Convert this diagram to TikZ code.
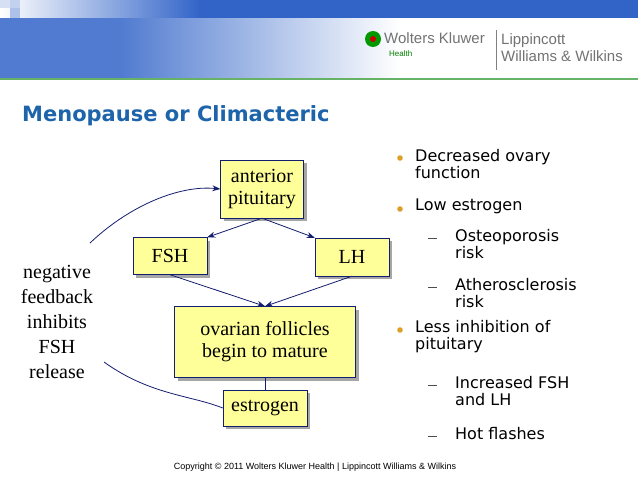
\documentclass[tikz,border=0pt]{standalone}
\usepackage{fontspec}
\setmainfont{Liberation Serif}
\newfontfamily\sansf{DejaVu Sans}
\newfontfamily\hdf{Liberation Sans}
\usetikzlibrary{shadows,arrows.meta}
\definecolor{boxy}{RGB}{255,255,153}
\definecolor{arr}{RGB}{20,30,110}
\definecolor{ttl}{RGB}{30,100,170}
\definecolor{bul}{RGB}{220,160,40}
\definecolor{hblue}{RGB}{50,100,200}
\tikzset{
  hbox/.style={draw=arr,fill=boxy,font=\fontsize{20}{22}\selectfont,align=center,inner sep=0pt,
    drop shadow={shadow xshift=3pt,shadow yshift=-3pt,fill=gray!70,opacity=1}},
  conn/.style={draw=arr,line width=0.8pt,-{Stealth[length=8pt,width=6pt]}},
  btxt/.style={font=\sansf\fontsize{16}{17}\selectfont,anchor=north west,align=left,text=black,inner sep=0pt}
}
\begin{document}
\begin{tikzpicture}[x=1pt,y=-1pt]
\useasboundingbox (0,0) rectangle (638,479);
\fill[white] (0,0) rectangle (638,479);
% header
\fill[hblue] (0,0) rectangle (638,18);
\shade[left color=white,right color=hblue] (0,0) rectangle (200,18);
\fill[hblue!20] (0,0) rectangle (10,8);\fill[hblue!40] (10,8) rectangle (20,18);
\fill[hblue!30] (10,0) rectangle (20,8);
\fill[hblue!85] (0,18) rectangle (120,78);
\shade[left color=hblue!85,right color=white] (120,18) rectangle (400,78);
\draw[green!50!black!60,line width=1.5pt] (0,79) -- (638,79);
\fill[green!60!black] (373,39) circle (8);\fill[red!80!black] (373,39) circle (3);
\node[font=\hdf\fontsize{15}{15}\selectfont,text=gray!90!black,anchor=west,inner sep=0] (wk) at (384,38) {Wolters Kluwer};
\node[font=\hdf\fontsize{8}{8}\selectfont,text=green!50!black,anchor=west,inner sep=0] (he) at (389,54) {Health};
\draw[gray] (496,30) -- (496,70);
\node[font=\hdf\fontsize{15}{17}\selectfont,text=gray!90!black,anchor=west,align=left,inner sep=0] (lww) at (501,48) {Lippincott\\Williams \& Wilkins};
\node[font=\sansf\bfseries\fontsize{21}{21}\selectfont,text=ttl,anchor=west,inner sep=0] (title) at (22,116) {Menopause or Climacteric};
% boxes
\node[hbox,minimum width=83pt,minimum height=58pt] (ap) at (262,189) {anterior\\pituitary};
\node[hbox,minimum width=74pt,minimum height=37pt] (fsh) at (170,256) {FSH};
\node[hbox,minimum width=74pt,minimum height=38pt] (lh) at (352,257) {LH};
\node[hbox,minimum width=181pt,minimum height=71pt] (ov) at (265,342) {ovarian follicles\\begin to mature};
\node[hbox,minimum width=84pt,minimum height=36pt] (es) at (265,408) {estrogen};
\draw[conn] (ap.south) -- (fsh.north east);
\draw[conn] (ap.south) -- (lh.north west);
\draw[conn] (fsh.south) -- (ov.north);
\draw[conn] (lh.south) -- (ov.north);
\draw[draw=arr,line width=0.8pt] (ov.south) -- (es.north);
\node[font=\fontsize{20}{25}\selectfont,align=center,inner sep=0] (fb) at (57,322) {negative\\feedback\\inhibits\\FSH\\release};
\coordinate (c1) at (90,243);
\coordinate (c2) at (104,362);
\draw[conn] (c1) .. controls (130,205) and (180,185) .. (ap.west);
\draw[draw=arr,line width=0.8pt] (c2) .. controls (150,395) and (190,395) .. (es.west);
% bullets
\foreach \y in {158,209,330} \fill[bul] (400,\y) circle (2.8);
\node[btxt] (b1) at (415,149) {Decreased ovary\\function};
\node[btxt] (b2) at (415,199) {Low estrogen};
\node[btxt] (s1) at (455,229) {Osteoporosis\\risk};
\node[btxt] (s2) at (455,278) {Atherosclerosis\\risk};
\node[btxt] (b3) at (415,320) {Less inhibition of\\pituitary};
\node[btxt] (s3) at (455,376) {Increased FSH\\and LH};
\node[btxt] (s4) at (455,427) {Hot flashes};
\foreach \y in {238,287,385,436} \draw[black!70,line width=0.6pt] (428,\y) -- (437,\y);
\node[font=\hdf\fontsize{9}{9}\selectfont,inner sep=0] (cp) at (315,467) {Copyright © 2011 Wolters Kluwer Health | Lippincott Williams \& Wilkins};
\end{tikzpicture}
\end{document}
